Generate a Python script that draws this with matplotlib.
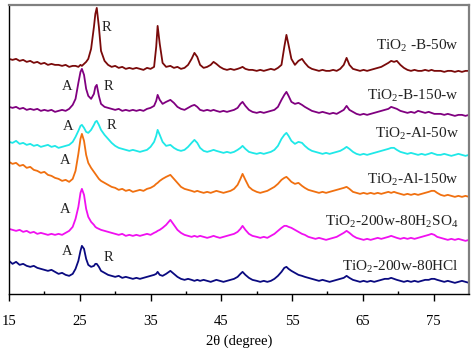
import matplotlib
matplotlib.use('Agg')
import matplotlib.pyplot as plt

plt.rcParams['font.family'] = ['Liberation Serif', 'DejaVu Serif']
plt.rcParams['mathtext.fontset'] = 'custom'
plt.rcParams['mathtext.rm'] = 'Liberation Serif'

# 2-theta grid (degree), one row per segment
two_theta = (
    [15, 15.5, 16, 16.5, 17, 17.5, 18, 18.5, 19, 19.5, 20, 20.5, 21, 21.5, 22, 22.5, 23, 23.5, 24]
    + [24.4, 24.8, 25.1, 25.3, 25.6, 25.9, 26.2, 26.6, 27.0, 27.2, 27.4, 27.7, 28.0]
    + [28.5, 29, 29.5, 30, 30.5, 31, 31.5, 32, 32.5, 33, 33.5, 34, 34.5, 35, 35.5]
    + [35.8, 36.0, 36.3, 36.7, 37.2, 37.8, 38.3, 38.8, 39.3, 39.8, 40.3, 40.8, 41.2, 41.6, 42.0, 42.5,
       43.0, 43.5, 43.9, 44.3, 44.8, 45.3, 45.8, 46.3, 46.8, 47.3, 47.7, 48.0, 48.4, 48.9, 49.4]
    + [50, 50.5, 51, 51.5, 52, 52.5, 53, 53.5]
    + [53.9, 54.2, 54.5, 54.9, 55.4, 55.9, 56.4, 56.8, 57.3, 57.8, 58.3, 58.8, 59.3, 59.8, 60.3, 60.8,
       61.3, 61.8, 62.3, 62.7, 63.1, 63.6, 64.1, 64.6, 65.1, 65.6, 66.1, 66.6, 67.1, 67.6, 68.1, 68.6,
       69.0, 69.4, 69.8, 70.3, 70.8, 71.3, 71.8, 72.3, 72.8, 73.3, 73.8, 74.3, 74.7, 75.1, 75.5]
    + [76.0, 76.5, 77, 77.5, 78, 78.5, 79, 79.5, 80]
)

# intensities (a.u., stacked offsets included)
b50w = (
    [235, 234, 235, 233, 234, 232, 233, 231, 232, 230, 231, 229, 230, 229, 229, 228, 229, 227, 228]
    + [228, 227, 229, 228, 230, 232, 235, 245, 267, 280, 286, 267, 243]
    + [233, 229, 227, 228, 226, 227, 225, 226, 225, 226, 225, 224, 226, 225, 227]
    + [247, 268, 250, 231, 227, 228, 226, 227, 225, 226, 229, 235, 241, 237, 229, 226,
       227, 229, 232, 230, 227, 225, 224, 225, 224, 225, 226, 227, 225, 224, 224]
    + [223, 224, 223, 224, 225, 224, 226, 229]
    + [247, 259, 249, 235, 229, 233, 235, 231, 227, 225, 224, 223, 224, 223, 223, 224,
       223, 225, 229, 236, 229, 225, 224, 223, 224, 223, 224, 225, 226, 227, 229, 231,
       233, 232, 233, 229, 226, 224, 223, 224, 223, 223, 224, 223, 224, 223, 223]
    + [223, 222, 223, 223, 222, 223, 222, 223, 223]
)
b150w = (
    [187, 186, 187, 185, 186, 184, 185, 184, 185, 183, 184, 183, 184, 182, 183, 184, 183, 185, 189]
    + [195, 211, 222, 225, 219, 205, 198, 195, 200, 207, 209, 198, 190]
    + [187, 186, 185, 184, 185, 183, 184, 183, 184, 183, 184, 183, 185, 186, 188]
    + [193, 199, 194, 190, 192, 194, 191, 187, 185, 184, 186, 188, 189, 187, 184, 183,
       184, 183, 184, 183, 182, 183, 182, 183, 184, 186, 190, 192, 188, 184, 182]
    + [181, 182, 181, 182, 183, 184, 187, 194]
    + [199, 202, 198, 192, 190, 191, 189, 187, 185, 183, 182, 181, 182, 181, 180, 181,
       180, 182, 184, 188, 184, 182, 180, 179, 180, 179, 180, 181, 182, 183, 184, 185,
       187, 186, 185, 183, 182, 181, 182, 181, 183, 182, 181, 182, 181, 180, 180]
    + [180, 179, 180, 179, 178, 179, 179, 178, 179]
)
al50w = (
    [152, 151, 153, 150, 151, 149, 150, 148, 149, 147, 148, 149, 147, 148, 146, 147, 148, 149, 152]
    + [157, 163, 168, 169, 166, 162, 161, 164, 169, 172, 173, 169, 164]
    + [159, 155, 151, 148, 146, 145, 144, 143, 144, 143, 142, 143, 144, 147, 152]
    + [158, 164, 159, 152, 148, 149, 146, 144, 143, 144, 147, 151, 154, 151, 146, 143,
       142, 143, 144, 143, 142, 141, 142, 141, 142, 144, 146, 148, 145, 142, 141]
    + [140, 141, 140, 141, 142, 144, 148, 155]
    + [159, 161, 158, 153, 150, 152, 151, 148, 145, 143, 142, 141, 140, 141, 140, 141,
       142, 143, 145, 147, 145, 142, 140, 139, 140, 139, 140, 141, 142, 143, 144, 145,
       146, 146, 144, 142, 141, 140, 141, 140, 139, 140, 139, 140, 141, 140, 139]
    + [139, 140, 139, 138, 139, 140, 139, 138, 139]
)
al150w = (
    [132, 130, 131, 128, 129, 126, 127, 124, 123, 121, 122, 119, 118, 116, 115, 113, 114, 112, 115]
    + [123, 140, 155, 160, 153, 139, 131, 126, 122, 120, 118, 115, 113]
    + [111, 109, 107, 106, 104, 105, 103, 104, 102, 103, 104, 103, 105, 106, 108]
    + [110, 111, 113, 115, 117, 119, 115, 111, 107, 105, 104, 103, 102, 103, 102, 101,
       102, 101, 102, 103, 102, 101, 102, 103, 105, 109, 115, 120, 114, 107, 104]
    + [102, 101, 102, 103, 105, 107, 110, 114]
    + [116, 117, 115, 112, 110, 111, 108, 106, 104, 103, 102, 101, 102, 101, 102, 103,
       104, 105, 106, 107, 105, 102, 101, 100, 101, 100, 101, 100, 101, 100, 101, 102,
       101, 102, 101, 100, 99, 100, 99, 100, 99, 100, 101, 102, 103, 103, 101]
    + [99, 98, 99, 98, 97, 98, 97, 98, 97]
)
h2so4 = (
    [65, 64, 63, 64, 62, 63, 61, 62, 60, 61, 60, 59, 60, 59, 60, 59, 61, 63, 67]
    + [75, 87, 101, 105, 99, 85, 77, 72, 69, 67, 66, 65, 64]
    + [63, 62, 61, 60, 59, 60, 58, 59, 58, 59, 58, 59, 60, 59, 61]
    + [62, 63, 64, 66, 69, 74, 69, 64, 61, 59, 58, 57, 58, 57, 58, 57,
       56, 57, 58, 57, 56, 57, 58, 59, 60, 62, 65, 68, 64, 60, 58]
    + [57, 56, 57, 56, 58, 60, 63, 66]
    + [68, 68, 67, 66, 64, 62, 60, 59, 57, 56, 55, 56, 55, 54, 55, 56,
       57, 59, 61, 63, 61, 58, 56, 55, 54, 55, 54, 55, 56, 55, 56, 57,
       58, 57, 56, 55, 56, 55, 56, 55, 56, 57, 58, 59, 60, 59, 57]
    + [56, 55, 54, 55, 54, 55, 54, 53, 54]
)
hcl = (
    [33, 30, 32, 29, 30, 28, 27, 28, 26, 25, 24, 23, 24, 22, 20, 21, 19, 18, 20]
    + [25, 33, 43, 48, 45, 35, 29, 27, 28, 30, 30, 27, 23]
    + [21, 19, 18, 17, 18, 16, 17, 16, 15, 16, 15, 16, 17, 18, 19]
    + [20, 22, 19, 18, 20, 23, 20, 17, 15, 14, 15, 14, 13, 14, 13, 14,
       13, 12, 13, 14, 13, 12, 13, 14, 15, 17, 20, 22, 19, 16, 14]
    + [13, 12, 13, 12, 13, 15, 18, 22]
    + [26, 27, 25, 23, 21, 19, 18, 17, 16, 15, 14, 13, 14, 13, 12, 13,
       14, 15, 16, 18, 16, 14, 13, 12, 13, 12, 13, 12, 13, 14, 15, 15,
       16, 15, 14, 13, 12, 13, 12, 13, 12, 13, 14, 14, 15, 15, 14]
    + [13, 12, 13, 12, 11, 12, 13, 12, 11]
)

series = [b50w, b150w, al50w, al150w, h2so4, hcl]
labels = [
    r'TiO$_\mathregular{2}$ -B-50w',
    r'TiO$_\mathregular{2}$-B-150-w',
    r'TiO$_\mathregular{2}$-Al-50w',
    r'TiO$_\mathregular{2}$-Al-150w',
    r'TiO$_\mathregular{2}$-200w-80H$_\mathregular{2}$SO$_\mathregular{4}$',
    r'TiO$_\mathregular{2}$-200w-80HCl',
]
label_y = [248, 198, 160, 114, 72, 27]
colors = ['#7a0a0a', '#800080', '#1fe8e8', '#f07010', '#f010f0', '#0a0a80']

# phase marks: (2theta, y, letter)
marks = [
    (28.7, 266, 'R'),
    (23.2, 207, 'A'), (29.0, 207, 'R'),
    (23.3, 167, 'A'), (29.5, 168, 'R'),
    (22.9, 133, 'A'),
    (22.9, 84, 'A'),
    (23.2, 42, 'A'), (29.0, 36, 'R'),
]

fig = plt.figure(figsize=(4.74, 3.49), dpi=100)
ax = fig.add_axes([0.019, 0.158, 0.9705, 0.828])

for y, c in zip(series, colors):
    ax.plot(two_theta, y, color=c, lw=1.3)

for lab, ly in zip(labels, label_y):
    ax.text(78.6, ly, lab, ha='right', va='center', fontsize=11, color='#222222')

for mx, my, m in marks:
    ax.text(mx, my, m, ha='center', va='center', fontsize=10.5, color='#222222')

ax.set_xlim(15, 80)
ax.set_ylim(0, 289)
ax.set_xticks([15, 25, 35, 45, 55, 65, 75])
ax.set_xticks([20, 30, 40, 50, 60, 70], minor=True)
ax.set_yticks([])
ax.tick_params(axis='x', which='major', direction='out', length=5, width=1, labelsize=10.5, pad=10)
ax.tick_params(axis='x', which='minor', direction='in', length=2.5, width=1)
ax.set_xlabel('2θ (degree)', fontsize=10.5, labelpad=5)

for s in ['left', 'bottom']:
    ax.spines[s].set_color('black')
    ax.spines[s].set_linewidth(1.0)
for s in ['top', 'right']:
    ax.spines[s].set_color('#808080')
    ax.spines[s].set_linewidth(1.6)

fig.savefig('out.png', dpi=100)
